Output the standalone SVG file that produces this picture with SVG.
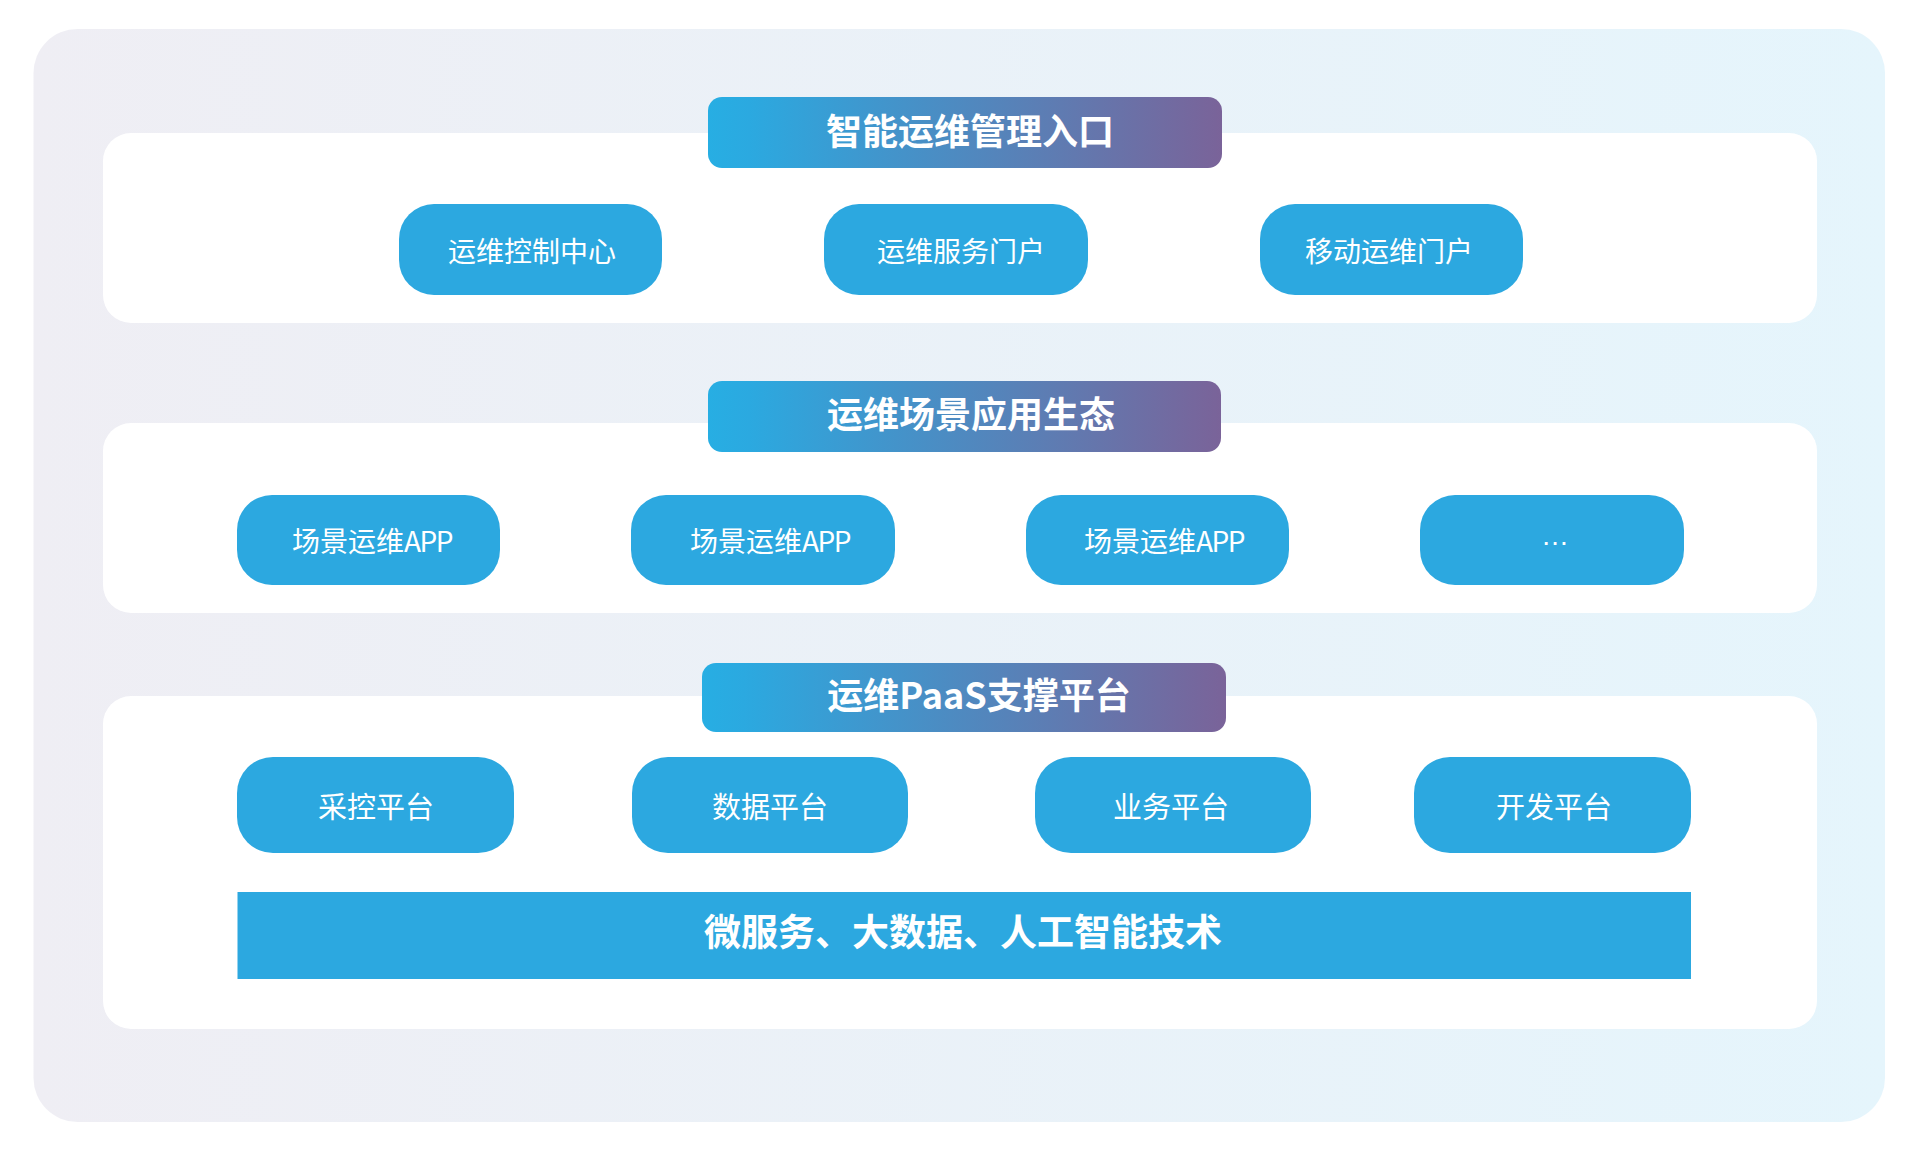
<svg xmlns="http://www.w3.org/2000/svg" width="1916" height="1154" viewBox="0 0 1916 1154">
  <defs>
    <linearGradient id="bgGrad" x1="0" y1="0" x2="1" y2="0">
      <stop offset="0" stop-color="#EFEEF4"/>
      <stop offset="1" stop-color="#E5F5FC"/>
    </linearGradient>
    <linearGradient id="bannerGrad" x1="0" y1="0" x2="1" y2="0">
      <stop offset="0" stop-color="#27AEE3"/>
      <stop offset="0.08" stop-color="#2BA9E0"/>
      <stop offset="1" stop-color="#7A6399"/>
    </linearGradient>
  </defs>
  <style>
    .panel { fill: #FFFFFF; }
    .banner { fill: url(#bannerGrad); }
    .node { fill: #2CA8E0; }
    .btxt { font-family: "Noto Sans CJK SC", "Noto Sans", sans-serif; font-weight: 700; font-size: 36px; fill: #FFFFFF; text-anchor: middle; dominant-baseline: central; }
    .ntxt { font-family: "Noto Sans CJK SC", "Noto Sans", sans-serif; font-weight: 400; font-size: 28px; fill: #FFFFFF; text-anchor: middle; dominant-baseline: central; }
    .ntxt3 { font-size: 29px; }
    .bartxt { font-family: "Noto Sans CJK SC", "Noto Sans", sans-serif; font-weight: 700; font-size: 37px; fill: #FFFFFF; text-anchor: middle; dominant-baseline: central; }
  </style>

  <rect id="background" x="33.5" y="29" width="1851.5" height="1093" rx="44" ry="44" fill="url(#bgGrad)"/>

  <g id="layer-entry">
    <rect class="panel" x="103" y="133" width="1714" height="190" rx="28" ry="28"/>
    <g id="title-entry">
      <rect class="banner" x="708" y="97" width="514" height="71" rx="14" ry="14"/>
      <text class="btxt" x="970" y="129">智能运维管理入口</text>
    </g>
    <g id="node-control-center">
      <rect class="node" x="399" y="204" width="263" height="91" rx="35" ry="35"/>
      <text class="ntxt" x="532" y="250">运维控制中心</text>
    </g>
    <g id="node-service-portal">
      <rect class="node" x="824" y="204" width="264" height="91" rx="35" ry="35"/>
      <text class="ntxt" x="961" y="250">运维服务门户</text>
    </g>
    <g id="node-mobile-portal">
      <rect class="node" x="1260" y="204" width="263" height="91" rx="35" ry="35"/>
      <text class="ntxt" x="1389" y="250">移动运维门户</text>
    </g>
  </g>

  <g id="layer-apps">
    <rect class="panel" x="103" y="423" width="1714" height="190" rx="28" ry="28"/>
    <g id="title-apps">
      <rect class="banner" x="708" y="381" width="513" height="71" rx="14" ry="14"/>
      <text class="btxt" x="971" y="412">运维场景应用生态</text>
    </g>
    <g id="node-app-1">
      <rect class="node" x="237" y="495" width="263" height="90" rx="35" ry="35"/>
      <text class="ntxt" x="372" y="540">场景运维<tspan letter-spacing="-1.5">APP</tspan></text>
    </g>
    <g id="node-app-2">
      <rect class="node" x="631" y="495" width="264" height="90" rx="35" ry="35"/>
      <text class="ntxt" x="770" y="540">场景运维<tspan letter-spacing="-1.5">APP</tspan></text>
    </g>
    <g id="node-app-3">
      <rect class="node" x="1026" y="495" width="263" height="90" rx="35" ry="35"/>
      <text class="ntxt" x="1164" y="540">场景运维<tspan letter-spacing="-1.5">APP</tspan></text>
    </g>
    <g id="node-app-more">
      <rect class="node" x="1420" y="495" width="264" height="90" rx="35" ry="35"/>
      <text x="1555" y="545" font-family="Liberation Sans, sans-serif" font-size="28" fill="#FFFFFF" text-anchor="middle">…</text>
    </g>
  </g>

  <g id="layer-paas">
    <rect class="panel" x="103" y="696" width="1714" height="333" rx="28" ry="28"/>
    <g id="title-paas">
      <rect class="banner" x="702" y="663" width="524" height="69" rx="14" ry="14"/>
      <text class="btxt" x="979" y="693">运维PaaS支撑平台</text>
    </g>
    <g id="node-collect">
      <rect class="node" x="237" y="757" width="277" height="96" rx="36" ry="36"/>
      <text class="ntxt ntxt3" x="376" y="805">采控平台</text>
    </g>
    <g id="node-data">
      <rect class="node" x="632" y="757" width="276" height="96" rx="36" ry="36"/>
      <text class="ntxt ntxt3" x="770" y="805">数据平台</text>
    </g>
    <g id="node-business">
      <rect class="node" x="1035" y="757" width="276" height="96" rx="36" ry="36"/>
      <text class="ntxt ntxt3" x="1171" y="805">业务平台</text>
    </g>
    <g id="node-dev">
      <rect class="node" x="1414" y="757" width="277" height="96" rx="36" ry="36"/>
      <text class="ntxt ntxt3" x="1554" y="805">开发平台</text>
    </g>
    <g id="node-tech-bar">
      <rect class="node" x="237.5" y="892" width="1453.5" height="87"/>
      <text class="bartxt" x="963" y="930">微服务、大数据、人工智能技术</text>
    </g>
  </g>

  <g id="connectors"/>
</svg>
